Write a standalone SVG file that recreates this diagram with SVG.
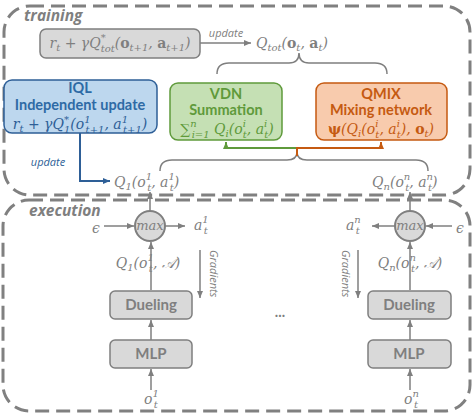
<svg xmlns="http://www.w3.org/2000/svg" width="474" height="415" viewBox="0 0 474 415">
<style>
.dash{fill:none;stroke:#808080;stroke-width:3;stroke-dasharray:14 7}
.gbox{fill:#d9d9d9;stroke:#7f7f7f;stroke-width:1.5}
.lbl{font-family:Lato,"Open Sans","Liberation Sans",sans-serif;font-weight:bold;font-size:14.5px;text-anchor:middle}
.lg{font-size:15px}
.m{font-family:"DejaVu Serif","Liberation Serif",serif;font-style:italic;font-size:14px;fill:#7f7f7f}
.s{font-size:10px}
.b{font-weight:bold;font-style:normal}
.it{font-family:"Open Sans","Liberation Sans",sans-serif;font-style:italic;font-size:11px;fill:#7f7f7f}
.sec{font-family:"Open Sans","Liberation Sans",sans-serif;font-style:italic;font-weight:bold;font-size:15.5px;fill:#7f7f7f}
.ln{fill:none;stroke:#7f7f7f;stroke-width:1.5}
</style>
<defs>
<marker id="ag" markerWidth="8" markerHeight="8" refX="7" refY="4" orient="auto" markerUnits="userSpaceOnUse"><path d="M0,1 L7,4 L0,7 Z" fill="#7f7f7f"/></marker>
<marker id="ab" markerWidth="8" markerHeight="8" refX="7" refY="4" orient="auto" markerUnits="userSpaceOnUse"><path d="M0,1 L7,4 L0,7 Z" fill="#2e5f97"/></marker>
<marker id="agr" markerWidth="8" markerHeight="8" refX="7" refY="4" orient="auto" markerUnits="userSpaceOnUse"><path d="M0,1 L7,4 L0,7 Z" fill="#5f9a3b"/></marker>
<marker id="aor" markerWidth="8" markerHeight="8" refX="7" refY="4" orient="auto" markerUnits="userSpaceOnUse"><path d="M0,1 L7,4 L0,7 Z" fill="#c55a11"/></marker>
</defs>

<g id="training">
<rect class="dash" x="4" y="6" width="466" height="189" rx="26"/>
<text class="sec" x="24" y="21">training</text>
</g>
<g id="execution">
<rect class="dash" x="3" y="200" width="467" height="211" rx="26"/>
<text class="sec" x="29" y="216">execution</text>
</g>

<g id="target">
<rect class="gbox" x="40" y="29" width="160" height="29" rx="6"/>
<text class="m" x="120" y="48" text-anchor="middle">r<tspan class="s" dy="3">t</tspan><tspan dy="-3"> + γQ</tspan><tspan class="s" dy="-7">*</tspan><tspan class="s" dx="-5" dy="11">tot</tspan><tspan dy="-4">(</tspan><tspan class="b">o</tspan><tspan class="s" dy="3">t+1</tspan><tspan dy="-3">, </tspan><tspan class="b">a</tspan><tspan class="s" dy="3">t+1</tspan><tspan dy="-3">)</tspan></text>
</g>
<g id="qtot">
<text class="m" x="256" y="48">Q<tspan class="s" dy="3">tot</tspan><tspan dy="-3">(</tspan><tspan class="b">o</tspan><tspan class="s" dy="3">t</tspan><tspan dy="-3">, </tspan><tspan class="b">a</tspan><tspan class="s" dy="3">t</tspan><tspan dy="-3">)</tspan></text>
</g>

<g id="iql">
<rect x="4" y="80" width="153" height="53" rx="8" fill="#bdd7ee" stroke="#2e5f97" stroke-width="1.5"/>
<text class="lbl" x="80" y="93" fill="#2e6aa5">IQL</text>
<text class="lbl" x="80" y="110" fill="#2e6aa5">Independent update</text>
<text class="m" x="80" y="129" text-anchor="middle" style="fill:#2e5f97">r<tspan class="s" dy="3">t</tspan><tspan dy="-3"> + γQ</tspan><tspan class="s" dy="-6">*</tspan><tspan class="s" dx="-5" dy="10">1</tspan><tspan dy="-4">(o</tspan><tspan class="s" dy="-6">1</tspan><tspan class="s" dx="-5" dy="10">t+1</tspan><tspan dy="-4">, a</tspan><tspan class="s" dy="-6">1</tspan><tspan class="s" dx="-5" dy="10">t+1</tspan><tspan dy="-4">)</tspan></text>
</g>

<g id="vdn">
<rect x="170" y="83" width="112" height="57" rx="8" fill="#c5e0b4" stroke="#5f9a3b" stroke-width="1.5"/>
<text class="lbl" x="226" y="99" fill="#5f9a3b">VDN</text>
<text class="lbl" x="226" y="115" fill="#5f9a3b">Summation</text>
<text class="m" x="227" y="134" text-anchor="middle" style="fill:#5f9a3b">∑<tspan class="s" dy="-7">n</tspan><tspan class="s" dx="-5" dy="11">i=1</tspan><tspan dy="-4"> Q</tspan><tspan class="s" dy="3">i</tspan><tspan dy="-3">(o</tspan><tspan class="s" dy="-7">i</tspan><tspan class="s" dx="-3" dy="11">t</tspan><tspan dy="-4">, a</tspan><tspan class="s" dy="-7">i</tspan><tspan class="s" dx="-3" dy="11">t</tspan><tspan dy="-4">)</tspan></text>
</g>

<g id="qmix">
<rect x="316" y="83" width="131" height="57" rx="8" fill="#f8cbad" stroke="#c55a11" stroke-width="1.5"/>
<text class="lbl" x="381" y="99" fill="#c55a11">QMIX</text>
<text class="lbl" x="381" y="115" fill="#c55a11">Mixing network</text>
<text class="m" x="381" y="134" text-anchor="middle" style="fill:#c55a11"><tspan class="b">ψ</tspan>(Q<tspan class="s" dy="3">i</tspan><tspan dy="-3">(o</tspan><tspan class="s" dy="-7">i</tspan><tspan class="s" dx="-3" dy="11">t</tspan><tspan dy="-4">, a</tspan><tspan class="s" dy="-7">i</tspan><tspan class="s" dx="-3" dy="11">t</tspan><tspan dy="-4">), </tspan><tspan class="b">o</tspan><tspan class="s" dy="3">t</tspan><tspan dy="-3">)</tspan></text>
</g>

<g id="q1">
<text class="m" x="114" y="187">Q<tspan class="s" dy="3">1</tspan><tspan dy="-3">(o</tspan><tspan class="s" dy="-7">1</tspan><tspan class="s" dx="-5" dy="11">t</tspan><tspan dy="-4">, a</tspan><tspan class="s" dy="-7">1</tspan><tspan class="s" dx="-5" dy="11">t</tspan><tspan dy="-4">)</tspan></text>
</g>
<g id="qn">
<text class="m" x="372" y="187">Q<tspan class="s" dy="3">n</tspan><tspan dy="-3">(o</tspan><tspan class="s" dy="-7">n</tspan><tspan class="s" dx="-5" dy="11">t</tspan><tspan dy="-4">, a</tspan><tspan class="s" dy="-7">n</tspan><tspan class="s" dx="-5" dy="11">t</tspan><tspan dy="-4">)</tspan></text>
</g>

<g id="max1">
<circle cx="150" cy="226" r="15" class="gbox" style="stroke-width:2"/>
<text class="m" x="150" y="230" text-anchor="middle" style="font-size:13px">max</text>
</g>
<g id="maxn">
<circle cx="410" cy="226" r="15" class="gbox" style="stroke-width:2"/>
<text class="m" x="410" y="230" text-anchor="middle" style="font-size:13px">max</text>
</g>

<g id="q1A"><text class="m" x="148" y="268" text-anchor="middle">Q<tspan class="s" dy="3">1</tspan><tspan dy="-3">(o</tspan><tspan class="s" dy="-7">1</tspan><tspan class="s" dx="-5" dy="11">t</tspan><tspan dy="-4">, 𝒜)</tspan></text></g>
<g id="qnA"><text class="m" x="410" y="268" text-anchor="middle">Q<tspan class="s" dy="3">n</tspan><tspan dy="-3">(o</tspan><tspan class="s" dy="-7">n</tspan><tspan class="s" dx="-5" dy="11">t</tspan><tspan dy="-4">, 𝒜)</tspan></text></g>

<g id="eps1"><text class="m" x="96" y="233" text-anchor="middle">ϵ</text></g>
<g id="epsn"><text class="m" x="460" y="233" text-anchor="middle">ϵ</text></g>
<g id="a1"><text class="m" x="194" y="230">a<tspan class="s" dy="-7">1</tspan><tspan class="s" dx="-5" dy="11">t</tspan></text></g>
<g id="an"><text class="m" x="346" y="230">a<tspan class="s" dy="-7">n</tspan><tspan class="s" dx="-5" dy="11">t</tspan></text></g>

<g id="dueling1"><rect class="gbox" x="110" y="291" width="82" height="28" rx="5"/><text class="lbl lg" x="151" y="310" fill="#7f7f7f">Dueling</text></g>
<g id="mlp1"><rect class="gbox" x="110" y="340" width="82" height="28" rx="5"/><text class="lbl lg" x="151" y="359" fill="#7f7f7f">MLP</text></g>
<g id="duelingn"><rect class="gbox" x="368" y="291" width="83" height="28" rx="5"/><text class="lbl lg" x="409" y="310" fill="#7f7f7f">Dueling</text></g>
<g id="mlpn"><rect class="gbox" x="368" y="340" width="83" height="28" rx="5"/><text class="lbl lg" x="409" y="359" fill="#7f7f7f">MLP</text></g>

<g id="o1"><text class="m" x="144" y="404">o<tspan class="s" dy="-7">1</tspan><tspan class="s" dx="-5" dy="11">t</tspan></text></g>
<g id="on"><text class="m" x="404" y="404">o<tspan class="s" dy="-7">n</tspan><tspan class="s" dx="-5" dy="11">t</tspan></text></g>

<g id="dots"><text class="lbl" x="280" y="317" fill="#7f7f7f">...</text></g>

<g id="connectors">
<path class="ln" d="M200,43 H251" marker-end="url(#ag)"/>
<text class="it" x="226" y="37" text-anchor="middle">update</text>
<path class="ln" d="M217,74 Q217,63 229,63 H289 Q299,63 299,53 Q299,63 309,63 H375 Q387,63 387,74"/>
<path class="ln" d="M160,171 Q160,160 172,160 H287 Q297,160 297,152 Q297,160 307,160 H416 Q428,160 428,171"/>
<path d="M297,148 H226 V142" fill="none" stroke="#5f9a3b" stroke-width="2" marker-end="url(#agr)"/>
<path d="M297,156 V148 H381 V142" fill="none" stroke="#c55a11" stroke-width="2" marker-end="url(#aor)"/>
<path d="M80,133 V181 H110" fill="none" stroke="#2e5f97" stroke-width="2" marker-end="url(#ab)"/>
<text class="it" x="48" y="166" text-anchor="middle" style="fill:#2e5f97">update</text>

<path class="ln" d="M150,211 V192" marker-end="url(#ag)"/>
<path class="ln" d="M104,226 H134" marker-end="url(#ag)"/>
<path class="ln" d="M165,226 H185" marker-end="url(#ag)"/>
<path class="ln" d="M151,290 V242" marker-end="url(#ag)"/>
<path class="ln" d="M151,340 V320" marker-end="url(#ag)"/>
<path class="ln" d="M151,390 V369" marker-end="url(#ag)"/>
<path class="ln" d="M200,250 V298" marker-end="url(#ag)"/>
<text class="it" x="210" y="250" transform="rotate(90 210 250)">Gradients</text>

<path class="ln" d="M410,211 V192" marker-end="url(#ag)"/>
<path class="ln" d="M452,226 H426" marker-end="url(#ag)"/>
<path class="ln" d="M395,226 H372" marker-end="url(#ag)"/>
<path class="ln" d="M410,290 V242" marker-end="url(#ag)"/>
<path class="ln" d="M410,340 V320" marker-end="url(#ag)"/>
<path class="ln" d="M410,390 V369" marker-end="url(#ag)"/>
<path class="ln" d="M358,250 V298" marker-end="url(#ag)"/>
<text class="it" x="342" y="250" transform="rotate(90 342 250)">Gradients</text>
</g>
</svg>
